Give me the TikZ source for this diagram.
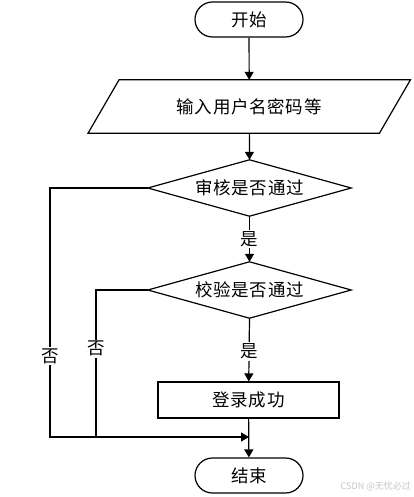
\documentclass[tikz,border=0pt]{standalone}
\usepackage{fontspec}
\setmainfont{Noto Sans CJK SC}[LetterSpace=4]
\newfontfamily\wmfont{Noto Sans CJK SC}
\usetikzlibrary{shapes.geometric,arrows.meta,calc}
\begin{document}
\begin{tikzpicture}[x=1pt,y=-1pt,
  every node/.style={font=\fontsize{17.5}{19}\selectfont, inner sep=0pt},
  line/.style={line width=1.2pt, black},
  arr/.style={line, -{Triangle[length=8pt,width=9pt]}},
  term/.style={draw, line width=1.2pt, rounded corners=17.5pt, minimum width=108pt, minimum height=35pt},
  decbox/.style={rectangle, minimum width=203pt, minimum height=56pt},
  proc/.style={draw, line width=1.2pt, rectangle, minimum width=181pt, minimum height=36pt},
  lbl/.style={fill=white, inner sep=1.5pt}
]
\useasboundingbox (0,0) rectangle (414,497);
\fill[white] (0,0) rectangle (414,497);

\node[term] (start) at (249,19.5) {开始};
\node[rectangle, minimum width=260pt, minimum height=53pt] (inp) at (249.25,106.5) {输入用户名密码等};
\draw[line] (inp.north west) -- ($(inp.north east)+(31,0)$) -- (inp.south east) -- ($(inp.south west)+(-31,0)$) -- cycle;
\node[decbox] (d1) at (249.5,188) {审核是否通过};
\draw[line] (d1.north) -- (d1.east) -- (d1.south) -- (d1.west) -- cycle;
\node[decbox] (d2) at (249.5,290) {校验是否通过};
\draw[line] (d2.north) -- (d2.east) -- (d2.south) -- (d2.west) -- cycle;
\node[proc] (ok) at (248.5,400) {登录成功};
\node[term] (end) at (249,475.5) {结束};

\coordinate (j) at (249,437);
\coordinate (l1) at (50,188);
\coordinate (b1) at (50,437);
\coordinate (l2) at (96,290);
\coordinate (b2) at (96,437);

\draw[arr] (start) -- (inp);
\draw[arr] (inp) -- (d1.north);
\draw[arr] (d1.south) -- node[lbl] {是} (d2.north);
\draw[arr] (d2.south) -- node[lbl, pos=0.53] {是} (ok);
\draw[arr] (ok) -- (end);
\draw[line] (d1.west) -- (l1) -- node[lbl, pos=0.675] {否} (b1) -- (b2);
\draw[line] (d2.west) -- (l2) -- node[lbl, pos=0.4] {否} (b2);
\draw[arr] (b2) -- (j);

\node[anchor=east, font=\wmfont\fontsize{9}{10}\selectfont, text=gray!45] (wm) at (411,486) {CSDN @无忧必过};
\end{tikzpicture}
\end{document}
